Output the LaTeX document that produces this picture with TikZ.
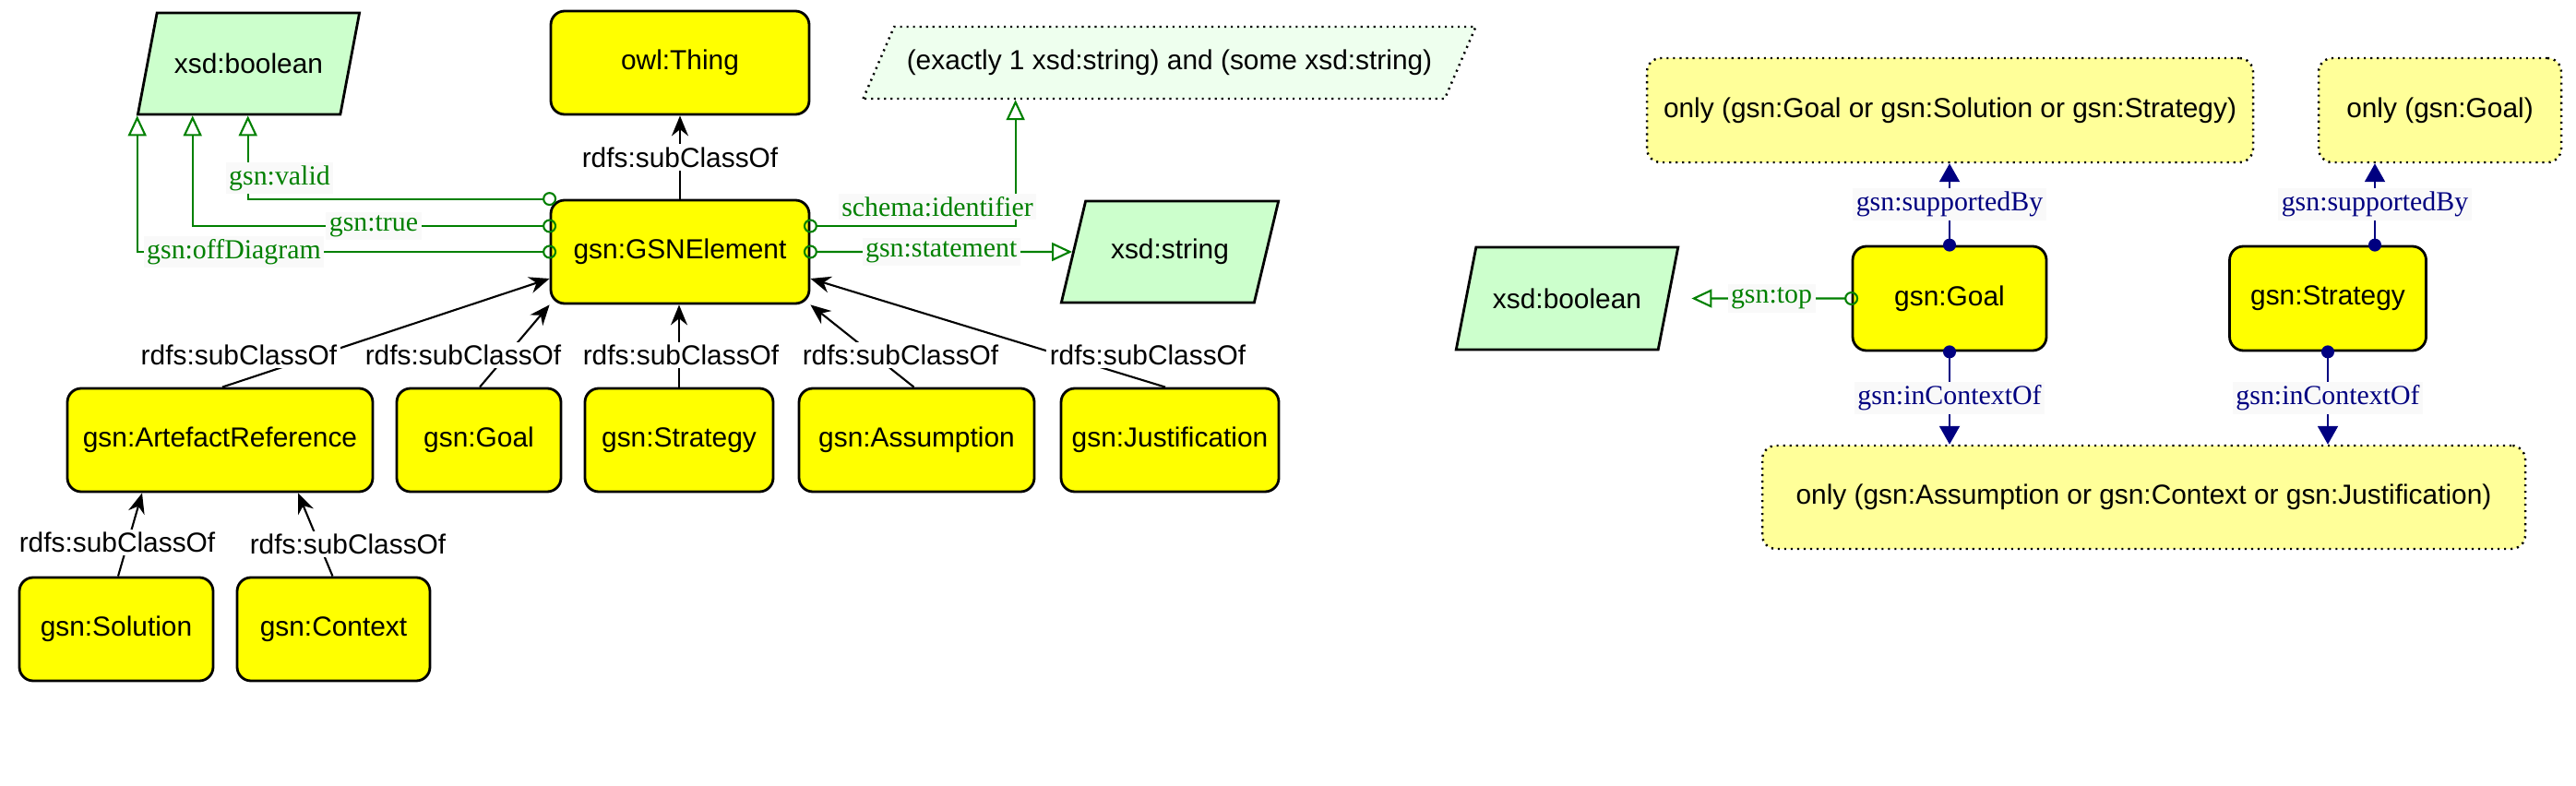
\documentclass[tikz,border=0pt]{standalone}
\usepackage{fontspec}
\setmainfont{Liberation Sans}
\newfontfamily\serifrm{Liberation Serif}
\usetikzlibrary{arrows.meta, shapes.geometric}

\definecolor{clsyellow}{HTML}{FFFF00}
\definecolor{restryellow}{HTML}{FFFF99}
\definecolor{dtgreen}{HTML}{CCFFCC}
\definecolor{restrgreen}{HTML}{EEFFEE}
\definecolor{dpgreen}{HTML}{008000}
\definecolor{opblue}{HTML}{000080}

\begin{document}
\begin{tikzpicture}[
    font=\fontsize{8.5}{10}\selectfont,
    cls/.style={rectangle, rounded corners=0.15cm, draw=black, line width=0.8pt, fill=clsyellow, minimum height=1.12cm},
    dtype/.style={trapezium, trapezium stretches=true, trapezium left angle=67, trapezium right angle=113, draw=black, line width=0.8pt, fill=dtgreen, minimum height=1.1cm},
    restr/.style={rectangle, rounded corners=0.15cm, draw=black, line width=0.7pt, dash pattern=on 0.6pt off 1.4pt, fill=restryellow, minimum height=1.13cm},
    sub/.style={line width=0.6pt, -{Stealth[length=0.22cm, width=0.18cm]}},
    dprop/.style={line width=0.6pt, draw=dpgreen, shorten <=-0.075cm, {Circle[open, length=0.15cm]}-{Triangle[open, length=0.22cm, width=0.2cm]}},
    oprop/.style={line width=0.6pt, draw=opblue, shorten <=-0.07cm, {Circle[length=0.14cm]}-{Triangle[length=0.2cm, width=0.22cm]}},
    lbl/.style={fill=white, inner sep=1pt},
    glbl/.style={fill=gray!5, text=dpgreen, font=\fontsize{8.5}{10}\serifrm, inner sep=1pt},
    blbl/.style={fill=gray!5, text=opblue, font=\fontsize{8.5}{10}\serifrm, inner sep=1pt}
  ]
  \useasboundingbox (0,0) rectangle (27.92,-8.52);

  % class hierarchy
  \node[cls, minimum width=2.80cm] (thing) at (7.37,-0.68) {owl:Thing};
  \node[cls, minimum width=2.80cm] (elem) at (7.37,-2.73) {gsn:GSNElement};
  \node[cls, minimum width=3.31cm] (artref) at (2.385,-4.77) {gsn:ArtefactReference};
  \node[cls, minimum width=1.78cm] (goalL) at (5.19,-4.77) {gsn:Goal};
  \node[cls, minimum width=2.04cm] (stratL) at (7.36,-4.77) {gsn:Strategy};
  \node[cls, minimum width=2.55cm] (assum) at (9.935,-4.77) {gsn:Assumption};
  \node[cls, minimum width=2.36cm] (justif) at (12.68,-4.77) {gsn:Justification};
  \node[cls, minimum width=2.10cm] (sol) at (1.26,-6.82) {gsn:Solution};
  \node[cls, minimum width=2.09cm] (ctx) at (3.615,-6.82) {gsn:Context};

  % datatypes
  \node[dtype, minimum width=2.41cm] (boolL) at (2.695,-0.69) {xsd:boolean};
  \node[dtype, minimum width=2.36cm] (str) at (12.68,-2.73) {xsd:string};
  \node[dtype, fill=restrgreen, line width=0.7pt, dash pattern=on 0.6pt off 1.4pt, trapezium left angle=58, trapezium right angle=122,
    minimum width=6.65cm, minimum height=0.78cm, inner xsep=0pt] (ident) at (12.675,-0.68) {(exactly 1 xsd:string) and (some xsd:string)};

  \draw[sub] (elem) -- (thing) node[lbl, midway] (s0) {rdfs:subClassOf};
  \draw[sub] ([xshift=0.025cm]artref.north) -- ([yshift=-0.29cm]elem.west) node[lbl] (s1) at (2.59,-3.85) {rdfs:subClassOf};
  \draw[sub] ([xshift=0.01cm]goalL.north) -- (elem.south west) node[lbl] (s2) at (5.02,-3.85) {rdfs:subClassOf};
  \draw[sub] (stratL.north) -- (stratL.north |- elem.south) node[lbl] (s3) at (7.38,-3.85) {rdfs:subClassOf};
  \draw[sub] ([xshift=-0.03cm]assum.north) -- (elem.south east) node[lbl] (s4) at (9.76,-3.85) {rdfs:subClassOf};
  \draw[sub] ([xshift=-0.05cm]justif.north) -- ([yshift=-0.29cm]elem.east) node[lbl] (s5) at (12.44,-3.85) {rdfs:subClassOf};
  \draw[sub] ([xshift=0.02cm]sol.north) -- ([xshift=-0.845cm]artref.south) node[lbl] (s6) at (1.27,-5.88) {rdfs:subClassOf};
  \draw[sub] ([xshift=-0.01cm]ctx.north) -- ([xshift=0.845cm]artref.south) node[lbl] (s7) at (3.77,-5.90) {rdfs:subClassOf};

  % data properties
  \draw[dprop] (elem.west) -| ([xshift=0.01cm]boolL.bottom left corner) node[glbl] (p1) at (2.535,-2.73) {gsn:offDiagram};
  \draw[dprop] ([yshift=0.28cm]elem.west) -| ([xshift=0.61cm]boolL.bottom left corner) node[glbl] (p2) at (4.05,-2.45) {gsn:true};
  \draw[dprop] (elem.north west) -| ([xshift=1.21cm]boolL.bottom left corner) node[glbl] (p3) at (3.03,-1.93) {gsn:valid};
  \draw[dprop] ([yshift=0.28cm]elem.east) -| ([xshift=1.67cm]ident.bottom left corner) node[glbl] (p4) at (10.16,-2.24) {schema:identifier};
  \draw[dprop] (elem.east) -- (str.west) node[glbl, midway] (p5) {gsn:statement};

  % goal and strategy
  \node[dtype, minimum width=2.41cm, minimum height=1.11cm, trapezium left angle=66, trapezium right angle=114] (boolR) at (16.985,-3.235) {xsd:boolean};
  \node[cls, minimum width=2.10cm, minimum height=1.13cm] (goalR) at (21.13,-3.235) {gsn:Goal};
  \node[cls, minimum width=2.13cm, minimum height=1.13cm] (stratR) at (25.23,-3.235) {gsn:Strategy};
  \node[restr, minimum width=6.57cm] (supA) at (21.135,-1.195) {only (gsn:Goal or gsn:Solution or gsn:Strategy)};
  \node[restr, minimum width=2.63cm] (supB) at (26.445,-1.195) {only (gsn:Goal)};
  \node[restr, minimum width=8.27cm, minimum height=1.12cm] (ctxR) at (23.235,-5.39) {only (gsn:Assumption or gsn:Context or gsn:Justification)};

  \draw[dprop] (goalR.west) -- ([xshift=0.24cm]boolR.east) node[glbl, midway] (p6) {gsn:top};
  \draw[oprop] (goalR.north) -- (goalR.north |- supA.south) node[blbl, midway] (q1) {gsn:supportedBy};
  \draw[oprop] ([xshift=0.51cm]stratR.north) coordinate (sb) -- (sb |- supB.south) node[blbl, midway] (q2) {gsn:supportedBy};
  \draw[oprop] (goalR.south) -- (goalR.south |- ctxR.north) node[blbl, midway] (q3) {gsn:inContextOf};
  \draw[oprop] (stratR.south) -- (stratR.south |- ctxR.north) node[blbl, midway] (q4) {gsn:inContextOf};
\end{tikzpicture}
\end{document}
